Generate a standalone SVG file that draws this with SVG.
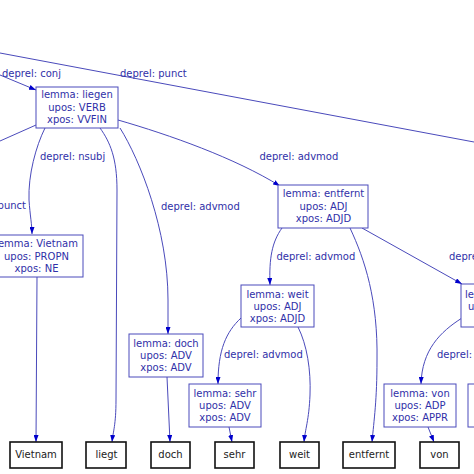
<svg xmlns="http://www.w3.org/2000/svg" width="474" height="474" viewBox="0 0 474 474">
<style>
.n rect{fill:#fff;stroke:#4a4abb;stroke-width:1}
.n text,.lbl{font-family:"DejaVu Sans",sans-serif;font-size:10px;fill:#3030a8;text-anchor:middle}
.lbl{text-anchor:start}
.t rect{fill:#fff;stroke:#111;stroke-width:1.6}
.t text{font-family:"DejaVu Sans",sans-serif;font-size:10px;fill:#222;text-anchor:middle}
.e path{fill:none;stroke:#4a4abb;stroke-width:1}
</style>
<defs>
<marker id="ah" viewBox="0 0 7 5" refX="7" refY="2.5" markerWidth="7" markerHeight="5" markerUnits="userSpaceOnUse" orient="auto">
<path d="M0,0 L7,2.5 L0,5 z" fill="#0000cc"/>
</marker>
</defs>
<rect width="474" height="474" fill="#fff"/>
<g id="edges" class="e">
<path d="M0,53 L474,142"/>
<path d="M0,75 L36,90" marker-end="url(#ah)"/>
<path d="M36,125 L0,141"/>
<path d="M45,128 C36,146 28,175 29,200 C30,215 32,225 32,234" marker-end="url(#ah)"/>
<path d="M100,128 C110,142 117,158 117,190 L116,400 C116,425 113,432 112,442" marker-end="url(#ah)"/>
<path d="M120,128 C140,160 168,230 168,300 L168,334" marker-end="url(#ah)"/>
<path d="M118,120 C170,135 235,158 280,186" marker-end="url(#ah)"/>
<path d="M282,228 C272,242 269,258 270,285" marker-end="url(#ah)"/>
<path d="M350,228 C365,260 378,300 377,360 C377,400 374,420 372,442" marker-end="url(#ah)"/>
<path d="M362,228 L462,284" marker-end="url(#ah)"/>
<path d="M298,327 C307,345 311,370 310,395 C309,420 305,430 304,442" marker-end="url(#ah)"/>
<path d="M241,318 C226,332 218,350 218,384" marker-end="url(#ah)"/>
<path d="M229,427 L232,442" marker-end="url(#ah)"/>
<path d="M167,377 L170,442" marker-end="url(#ah)"/>
<path d="M37,277 L36,442" marker-end="url(#ah)"/>
<path d="M428,427 L434,442" marker-end="url(#ah)"/>
<path d="M462,318 C440,332 422,350 421,384" marker-end="url(#ah)"/>
</g>
<g id="edge-labels">
<text class="lbl" x="2" y="76.5">deprel: conj</text>
<text class="lbl" x="120" y="76.5">deprel: punct</text>
<text class="lbl" x="40" y="160">deprel: nsubj</text>
<text class="lbl" x="26" y="209" style="text-anchor:end">deprel: punct</text>
<text class="lbl" x="161" y="209.5">deprel: advmod</text>
<text class="lbl" x="259.5" y="160">deprel: advmod</text>
<text class="lbl" x="276.5" y="259.5">deprel: advmod</text>
<text class="lbl" x="449" y="259.5">deprel:</text>
<text class="lbl" x="224" y="358">deprel: advmod</text>
<text class="lbl" x="437" y="358">deprel:</text>
</g>
<g id="n-liegen" class="n"><rect x="36" y="87" width="82" height="41"/>
<text x="77" y="98">lemma: liegen</text><text x="77" y="110.5">upos: VERB</text><text x="77" y="123">xpos: VVFIN</text></g>
<g id="n-vietnam" class="n"><rect x="-10" y="235" width="93" height="42"/>
<text x="36.5" y="247">lemma: Vietnam</text><text x="36.5" y="259.5">upos: PROPN</text><text x="36.5" y="271.5">xpos: NE</text></g>
<g id="n-entfernt" class="n"><rect x="278" y="185" width="90" height="43"/>
<text x="323.5" y="197">lemma: entfernt</text><text x="323.5" y="209.5">upos: ADJ</text><text x="323.5" y="221.5">xpos: ADJD</text></g>
<g id="n-weit" class="n"><rect x="241" y="285" width="73" height="42"/>
<text x="277.5" y="297.5">lemma: weit</text><text x="277.5" y="309.5">upos: ADJ</text><text x="277.5" y="321.5">xpos: ADJD</text></g>
<g id="n-doch" class="n"><rect x="129" y="334" width="74" height="43"/>
<text x="166" y="346.5">lemma: doch</text><text x="166" y="358.5">upos: ADV</text><text x="166" y="370.5">xpos: ADV</text></g>
<g id="n-sehr" class="n"><rect x="189" y="384" width="72" height="43"/>
<text x="225" y="396.5">lemma: sehr</text><text x="225" y="408.5">upos: ADV</text><text x="225" y="420.5">xpos: ADV</text></g>
<g id="n-von" class="n"><rect x="384" y="384" width="72" height="43"/>
<text x="420" y="396.5">lemma: von</text><text x="420" y="408.5">upos: ADP</text><text x="420" y="420.5">xpos: APPR</text></g>
<g id="n-right-top" class="n"><rect x="461" y="284" width="40" height="43"/>
<text x="465" y="297.5" style="text-anchor:start">le</text><text x="468" y="309.5" style="text-anchor:start">u</text></g>
<g id="n-right-bottom" class="n"><rect x="468" y="384" width="40" height="43"/></g>
<g id="t-vietnam" class="t"><rect x="10" y="442" width="52" height="26"/><text x="36" y="458">Vietnam</text></g>
<g id="t-liegt" class="t"><rect x="86" y="442" width="40" height="26"/><text x="106.5" y="458">liegt</text></g>
<g id="t-doch" class="t"><rect x="151" y="442" width="39" height="26"/><text x="170.5" y="458">doch</text></g>
<g id="t-sehr" class="t"><rect x="215" y="442" width="39" height="26"/><text x="234.5" y="458">sehr</text></g>
<g id="t-weit" class="t"><rect x="280" y="442" width="39" height="26"/><text x="299.5" y="458">weit</text></g>
<g id="t-entfernt" class="t"><rect x="343" y="442" width="52" height="26"/><text x="369" y="458">entfernt</text></g>
<g id="t-von" class="t"><rect x="420" y="442" width="39" height="26"/><text x="439.5" y="458">von</text></g>
</svg>
